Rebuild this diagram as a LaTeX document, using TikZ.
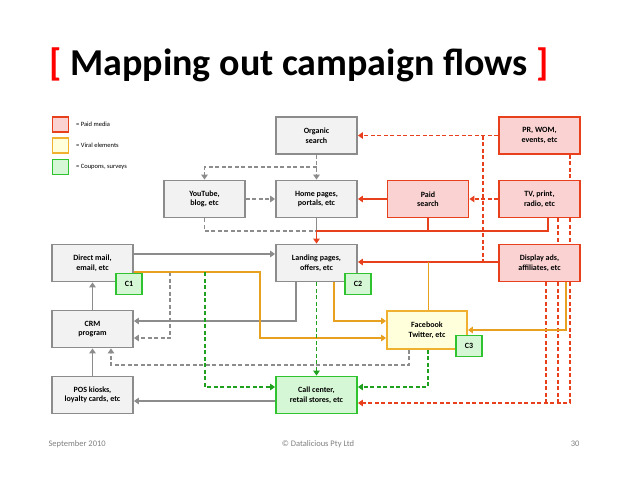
\documentclass[tikz,border=0pt]{standalone}
\usepackage{fontspec}
\setmainfont{Carlito}
\usetikzlibrary{arrows.meta}
\definecolor{gfill}{HTML}{F2F2F2}\definecolor{gdraw}{HTML}{8C8C8C}
\definecolor{rfill}{HTML}{FAD2D2}\definecolor{rdraw}{HTML}{E8401C}
\definecolor{yfill}{HTML}{FFFFDC}\definecolor{ydraw}{HTML}{F0B030}
\definecolor{cfill}{HTML}{D6F7D6}\definecolor{cdraw}{HTML}{2FC42F}
\definecolor{odraw}{HTML}{E8A020}\definecolor{gline}{HTML}{1FA01F}
\begin{document}
\begin{tikzpicture}[x=1pt,y=-1pt,
 box/.style={draw, line width=1.8pt, minimum width=81pt, minimum height=37pt, align=center, font=\fontsize{8}{9.5}\selectfont\bfseries, inner sep=1pt},
 gbox/.style={box, fill=gfill, draw=gdraw},
 rbox/.style={box, fill=rfill, draw=rdraw},
 ybox/.style={box, fill=yfill, draw=ydraw, minimum width=80pt, minimum height=38pt},
 cbox/.style={box, fill=cfill, draw=cdraw},
 cl/.style={box, fill=cfill, draw=cdraw, minimum width=26pt, minimum height=21pt},
 lg/.style={draw, line width=1.5pt, minimum width=16pt, minimum height=15pt, inner sep=0pt},
 lt/.style={anchor=west, font=\fontsize{6.5}{7.5}\selectfont, inner sep=0pt},
 ar/.style={-{Triangle[length=5pt,width=6.5pt]}},
 gl/.style={gdraw, line width=1.7pt},
 rl/.style={rdraw, line width=1.7pt},
 ol/.style={odraw, line width=1.7pt},
 grl/.style={gline, line width=1.7pt},
 dsh/.style={dash pattern=on 4pt off 2.5pt}]
\useasboundingbox (0,0) rectangle (638,479);
\node (title) at (299,65) {\fontsize{38}{44}\selectfont\bfseries\textcolor{red}{[} Mapping out campaign flows \textcolor{red}{]}};
\node[lg, fill=rfill, draw=rdraw] (l1) at (60.5,124.5) {};
\node[lg, fill=yfill, draw=ydraw] (l2) at (60.5,145.5) {};
\node[lg, fill=cfill, draw=cdraw] (l3) at (60.5,167) {};
\node[lt] (t1) at (76,124.5) {= Paid media};
\node[lt] (t2) at (76,145.5) {= Viral elements};
\node[lt] (t3) at (76,167) {= Coupons, surveys};

\node[gbox] (org) at (316.5,135.5) {Organic\\search};
\node[gbox] (yt) at (204.5,199) {YouTube,\\blog, etc};
\node[gbox] (home) at (316.5,199) {Home pages,\\portals, etc};
\node[rbox] (paid) at (428,199) {Paid\\search};
\node[rbox] (pr) at (539.5,135.5) {PR, WOM,\\events, etc};
\node[rbox] (tv) at (539.5,199) {TV, print,\\radio, etc};
\node[rbox] (disp) at (539.5,263) {Display ads,\\affiliates, etc};
\node[gbox] (dm) at (92.5,263) {Direct mail,\\email, etc};
\node[gbox] (land) at (316.5,263) {Landing pages,\\offers, etc};
\node[gbox] (crm) at (92.5,329) {CRM\\program};
\node[ybox] (fb) at (427,330) {Facebook\\Twitter, etc};
\node[gbox] (pos) at (92.5,395) {POS kiosks,\\loyalty cards, etc};
\node[cbox] (call) at (316.5,395) {Call center,\\retail stores, etc};

% gray connectors
\draw[gl,dsh,ar] (org.south) -- (home.north);
\draw[gl,dsh,ar] (316.5,167) -| (yt.north);
\draw[gl,dsh,ar] (yt.east) -- (home.west);
\draw[gl,dsh] (yt.south) |- (316.5,231);
\draw[gl] (home.south) -- (316.5,231);
\draw[gl,ar] (dm.east |- 0,254) -- (land.west |- 0,254);
\draw[gl,ar] (crm.north) -- (dm.south);
\draw[gl,ar] (pos.north) -- (crm.south);
\draw[gl,ar] (call.west |- 0,401) -- (pos.east |- 0,401);
\draw[gl,ar] (land.south -| 296,0) |- (crm.east |- 0,321);
\draw[gl,dsh,ar] (170,272) |- (crm.east |- 0,338);
\draw[gl,dsh,ar] (fb.south -| 409,0) |- (111,365) -- (crm.south -| 111,0);

% red connectors
\draw[rl,dsh,ar] (pr.west) -- (org.east);
\draw[rl,dsh] (483,135.5) -- (483,262);
\draw[rl,dsh] (pr.south -| 570,0) -- (tv.north -| 570,0);
\draw[rl,dsh,ar] (tv.west) -- (paid.east);
\draw[rl,ar] (paid.west) -- (home.east);
\draw[rl,ar] (tv.south -| 548,0) |- (316.5,231) -- (land.north);
\draw[rl] (paid.south) -- (428,231);
\draw[rl,ar] (disp.west |- 0,262) -- (land.east |- 0,262);
\draw[rl,dsh] (tv.south -| 558,0) -- (disp.north -| 558,0);
\draw[rl,dsh] (tv.south -| 570,0) -- (disp.north -| 570,0);
\draw[rl,dsh] (disp.south -| 546,0) -- (546,403);
\draw[rl,dsh] (disp.south -| 558,0) -- (558,403);
\draw[rl,dsh,ar] (disp.south -| 570,0) |- (call.east |- 0,403);

% orange connectors
\draw[ol,ar] (dm.east |- 0,272) -| (260,338) -- (fb.west |- 0,338);
\draw[ol,ar] (land.south -| 334,0) |- (fb.west |- 0,321);
\draw[odraw, line width=0.8pt] (fb.north -| 428,0) -- (428,262);
\draw[ol,ar] (566,282) |- (fb.east |- 0,330);

% green connectors
\draw[grl,dsh,ar] (205,272) |- (call.west |- 0,387);
\draw[grl,dsh,ar] (land.south) -- (call.north);
\draw[grl,dsh,ar] (fb.south -| 428,0) |- (call.east |- 0,387);

\node[cl] (c1) at (129,284) {C1};
\node[cl] (c2) at (358,284) {C2};
\node[cl] (c3) at (469,346) {C3};

\node[anchor=west, text=gray, font=\fontsize{8.5}{10}\selectfont] (f1) at (45,444) {September 2010};
\node[text=gray, font=\fontsize{8.5}{10}\selectfont] (f2) at (318,444) {© Datalicious Pty Ltd};
\node[anchor=east, text=gray, font=\fontsize{8.5}{10}\selectfont] (f3) at (583,444) {30};
\end{tikzpicture}
\end{document}
